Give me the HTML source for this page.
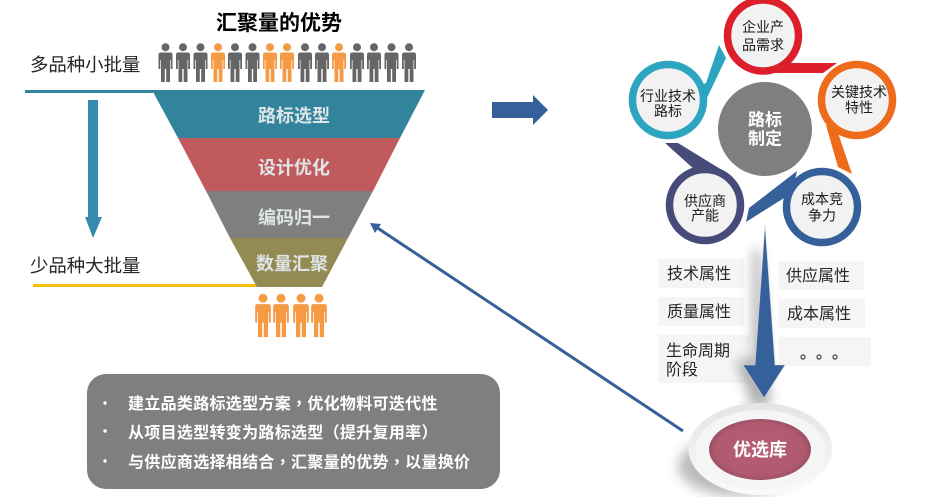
<!DOCTYPE html>
<html><head><meta charset="utf-8"><style>
html,body{margin:0;padding:0;background:#fff;width:933px;height:497px;overflow:hidden}
svg{display:block}
text{font-family:"Liberation Sans","Noto Sans CJK SC",sans-serif}
.p{font-family:"Noto Sans CJK TC",sans-serif}
</style></head><body>
<svg width="933" height="497" viewBox="0 0 933 497" xmlns="http://www.w3.org/2000/svg">
<defs>
<filter id="b6" x="-50%" y="-50%" width="200%" height="200%"><feGaussianBlur stdDeviation="6"/></filter>
<linearGradient id="rim" x1="0" y1="0" x2="0" y2="1"><stop offset="0" stop-color="#e4e4e4"/><stop offset="1" stop-color="#fbfbfb"/></linearGradient>
<radialGradient id="core" cx=".5" cy=".5" r=".5"><stop offset="0" stop-color="#b45c74"/><stop offset=".85" stop-color="#b05a70"/><stop offset="1" stop-color="#9c5064"/></radialGradient>
<g id="p">
<circle cx="0" cy="4.200" r="4"/>
<path d="M-5 9.500H5Q7 9.500 7 12V26H5.200V17H4.500V39H.7V26H-.7V39H-4.500V17H-5.200V26H-7V12Q-7 9.500-5 9.500Z"/>
</g>
</defs>

<!-- title -->
<text x="279" y="30" font-size="21" font-weight="700" text-anchor="middle" fill="#000">汇聚量的优势</text>

<!-- people top -->
<g fill="#666666">
<use href="#p" x="165.500" y="43"/><use href="#p" x="183" y="43"/><use href="#p" x="200.500" y="43"/>
<use href="#p" x="235" y="43"/><use href="#p" x="252.500" y="43"/><use href="#p" x="305" y="43"/><use href="#p" x="322" y="43"/>
<use href="#p" x="357" y="43"/><use href="#p" x="374" y="43"/><use href="#p" x="391.500" y="43"/><use href="#p" x="409" y="43"/>
</g>
<g fill="#f59a45">
<use href="#p" x="218" y="43"/><use href="#p" x="270" y="43"/><use href="#p" x="287" y="43"/><use href="#p" x="339" y="43"/>
</g>

<!-- left labels -->
<text x="30" y="71" font-size="18.400" fill="#262626">多品种小批量</text>
<rect x="25" y="90" width="128" height="3" fill="#31849b"/>
<rect x="88" y="100" width="10" height="118" fill="#378bae"/>
<polygon points="85,217 102,217 93,238" fill="#378bae"/>
<text x="30" y="272" font-size="18.400" fill="#262626">少品种大批量</text>
<rect x="33" y="284" width="226" height="3" fill="#f5c016"/>

<!-- funnel -->
<polygon points="152,90 425,90 400,138 178,138" fill="#31849b"/>
<polygon points="178,138 400,138 373,191 206,191" fill="#c05a5d"/>
<polygon points="206,191 373,191 348,238 230,238" fill="#7f7f7f"/>
<polygon points="230,238 348,238 322,287 257,287" fill="#948a54"/>
<g font-size="18" font-weight="700" fill="#dfe5e7" text-anchor="middle">
<text x="294" y="122">路标选型</text>
<text x="294" y="174">设计优化</text>
<text x="294" y="224">编码归一</text>
<text x="292" y="270">数量汇聚</text>
</g>

<!-- people bottom -->
<g fill="#f59a45">
<use href="#p" transform="translate(263,293.500) scale(1.120)"/>
<use href="#p" transform="translate(281,293.500) scale(1.120)"/>
<use href="#p" transform="translate(301,293.500) scale(1.120)"/>
<use href="#p" transform="translate(319,293.500) scale(1.120)"/>
</g>

<!-- info box -->
<rect x="87" y="374" width="413" height="115" rx="19" fill="#7f7f7f"/>
<g font-size="16" font-weight="700" fill="#fff">
<circle cx="105" cy="403" r="1.700"/><circle cx="105" cy="431" r="1.700"/><circle cx="105" cy="461" r="1.700"/>
<text x="128" y="409" letter-spacing=".3">建立品类路标选型方案<tspan class="p">&#xFF0C;</tspan>优化物料可迭代性</text>
<text x="128" y="438" letter-spacing=".3">从项目选型转变为路标选型<tspan class="p">&#xFF08;</tspan>提升复用率<tspan class="p">&#xFF09;</tspan></text>
<text x="128" y="467.500" letter-spacing=".3">与供应商选择相结合<tspan class="p">&#xFF0C;</tspan>汇聚量的优势<tspan class="p">&#xFF0C;</tspan>以量换价</text>
</g>

<!-- right arrow -->
<polygon points="492,102 533,102 533,95 548,110 533,125 533,118 492,118" fill="#36609a"/>

<!-- long arrow -->
<line x1="683" y1="431" x2="376" y2="227" stroke="#36609a" stroke-width="3"/>
<polygon points="370,223 381,224 375,233" fill="#36609a"/>

<!-- cycle tails -->
<polygon points="775,63 837,63 823,73 765,73" fill="#dc1f2a"/>
<polygon points="826,125 838,167 852,174 837,130" fill="#ee6b1c"/>
<polygon points="797,171 749,208 746,222 792,193" fill="#36609a"/>
<polygon points="665,143 678,143 722,170 695,170" fill="#474b7a"/>
<polygon points="719,45 726,58 706,100 697,108 690,90 706,83" fill="#2ba5c0"/>

<!-- cycle circles -->
<g stroke-width="7.500" fill="#f2f2f2">
<circle cx="763" cy="35.500" r="35.500" stroke="#dc1f2a"/>
<circle cx="857" cy="100" r="35.500" stroke="#ee6b1c"/>
<circle cx="822" cy="207" r="35.500" stroke="#36609a"/>
<circle cx="705" cy="205" r="35.500" stroke="#474b7a"/>
<circle cx="668" cy="100" r="35.500" stroke="#2ba5c0"/>
</g>
<circle cx="765" cy="129" r="47" fill="#7f7f7f"/>
<g font-size="14" fill="#1a1a1a" text-anchor="middle">
<text x="763" y="32">企业产</text><text x="763" y="50">品需求</text>
<text x="859" y="97">关键技术</text><text x="859" y="112.500">特性</text>
<text x="822" y="204">成本竞</text><text x="822" y="220.500">争力</text>
<text x="705" y="206">供应商</text><text x="705" y="220.500">产能</text>
<text x="668" y="101">行业技术</text><text x="668" y="116">路标</text>
</g>
<g font-size="17" font-weight="700" fill="#fff" text-anchor="middle">
<text x="765" y="125.500">路标</text><text x="765" y="144.500">制定</text>
</g>

<!-- attribute boxes -->
<g fill="#f5f5f5">
<rect x="658" y="259" width="86" height="29"/>
<rect x="658" y="297" width="86" height="29"/>
<rect x="658" y="335" width="92" height="48"/>
<rect x="778" y="261" width="86" height="29"/>
<rect x="779" y="299" width="86" height="29"/>
<rect x="779" y="337" width="92" height="29"/>
</g>

<!-- shadow of arrow / plate -->
<polygon points="753,250 753,360 736,360 752,405 735,412 770,405 760,250" fill="#8c8c8c" filter="url(#b6)" opacity=".7"/>
<ellipse cx="738" cy="466" rx="60" ry="30" fill="#777" filter="url(#b6)" opacity=".5"/>

<g font-size="16" fill="#262626">
<text x="667" y="279">技术属性</text>
<text x="667" y="317">质量属性</text>
<text x="666" y="356">生命周期</text>
<text x="666" y="375">阶段</text>
<text x="786" y="281">供应属性</text>
<text x="787" y="319">成本属性</text>
</g>
<g fill="none" stroke="#444" stroke-width="1.200">
<circle cx="803" cy="357" r="2"/><circle cx="819" cy="357" r="2"/><circle cx="835" cy="357" r="2"/>
</g>

<!-- down arrow -->
<polygon points="765,225 775,365 785,365 764,398 743,365 755,365" fill="#36609a" stroke="#d0d6e0" stroke-width=".6"/>

<!-- plate -->
<ellipse cx="760.500" cy="449" rx="72" ry="46" fill="url(#rim)"/>
<ellipse cx="760.500" cy="450" rx="65" ry="40" fill="#f5f5f5"/>
<ellipse cx="760" cy="449.500" rx="51" ry="30.500" fill="url(#core)"/>
<text x="760" y="456" font-size="18" font-weight="700" fill="#fff" text-anchor="middle">优选库</text>
</svg>
</body></html>
